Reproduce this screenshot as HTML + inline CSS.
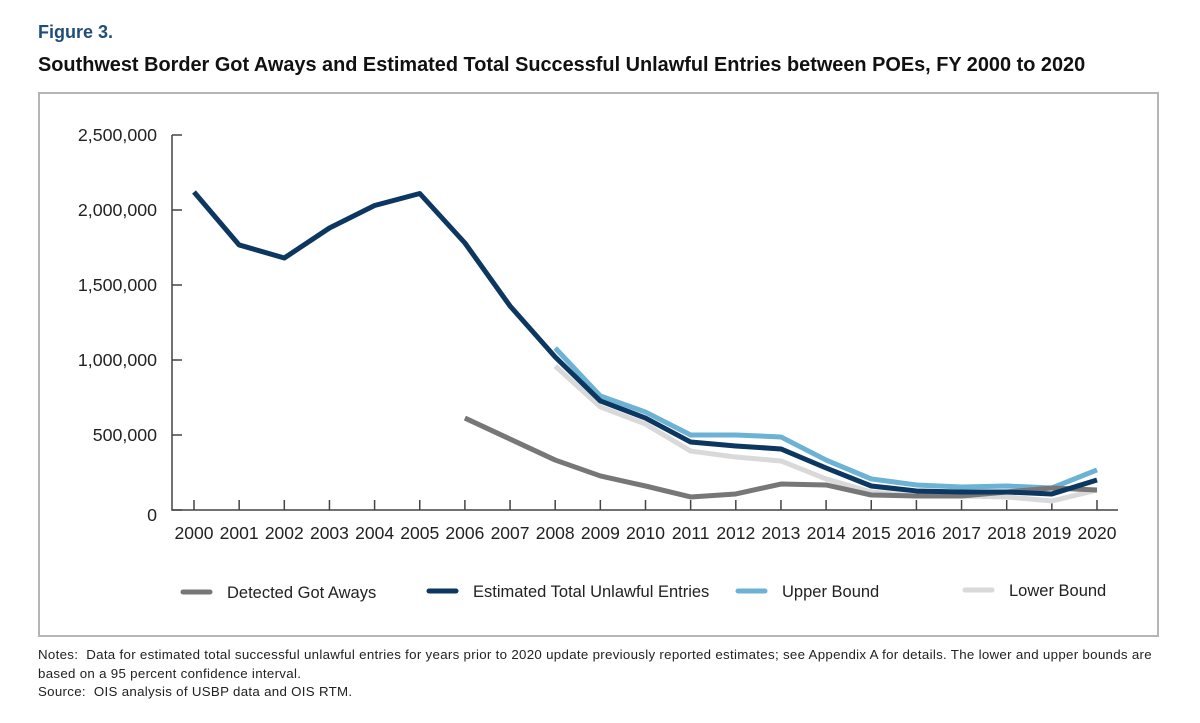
<!DOCTYPE html>
<html><head><meta charset="utf-8"><style>
body{margin:0;background:#fff;font-family:"Liberation Sans",sans-serif;}
.t1{position:absolute;left:38px;top:22px;font-size:18px;font-weight:bold;color:#1f4e79;}
.t2{position:absolute;left:38px;top:54px;font-size:19.9px;font-weight:bold;color:#111;white-space:nowrap;}
.box{position:absolute;left:38px;top:92px;width:1121px;height:545px;border:2px solid #b5b5b5;box-sizing:border-box;}
.notes{position:absolute;left:38px;top:646px;font-size:13.3px;letter-spacing:0.3px;color:#222;line-height:18.5px;width:1140px;white-space:nowrap;}
</style></head><body>
<div class="t1">Figure 3.</div>
<div class="t2">Southwest Border Got Aways and Estimated Total Successful Unlawful Entries between POEs, FY 2000 to 2020</div>
<div class="box"></div>
<svg id="c" width="1200" height="723" style="position:absolute;left:0;top:0"></svg>
<div class="notes">Notes:&nbsp; Data for estimated total successful unlawful entries for years prior to 2020 update previously reported estimates; see Appendix A for details. The lower and upper bounds are<br>based on a 95 percent confidence interval.<br>Source:&nbsp; OIS analysis of USBP data and OIS RTM.</div>
<script>
const years=[2000,2001,2002,2003,2004,2005,2006,2007,2008,2009,2010,2011,2012,2013,2014,2015,2016,2017,2018,2019,2020];
const yTicks=[0,500000,1000000,1500000,2000000,2500000];
const estimated=[2120000,1767000,1680000,1880000,2030000,2110000,1780000,1360000,1020000,727000,613000,453000,427000,407000,280000,160000,127000,120000,120000,107000,200000];
const upper=[null,null,null,null,null,null,null,null,1080000,760000,653000,500000,500000,487000,333000,207000,167000,153000,160000,147000,267000];
const lower=[null,null,null,null,null,null,null,null,960000,687000,573000,393000,353000,327000,207000,120000,93000,93000,87000,60000,133000];
const gotAways=[null,null,null,null,null,null,613000,473000,333000,227000,160000,87000,107000,173000,167000,100000,93000,93000,120000,147000,133000];
const NS="http://www.w3.org/2000/svg",svg=document.getElementById('c');
const x=i=>194+i*(1097-194)/20, y=v=>510-v/500000*75;
function mk(t,a,p){const e=document.createElementNS(NS,t);for(const k in a)e.setAttribute(k,a[k]);(p||svg).appendChild(e);return e;}
let ax=mk('path',{d:'M172,135V510H1118',stroke:'#444','stroke-width':1.5,fill:'none'});


yTicks.forEach(v=>{
 let tk=mk('line',{x1:172,x2:182,y1:y(v),y2:y(v),stroke:'#444','stroke-width':1.5});
 
 
 let t=mk('text',{x:157,y:y(v)+6+(v==0?5:0),'text-anchor':'end','font-size':17.8,fill:'#222'});
 t.textContent=v.toLocaleString('en-US');
 
 
});
years.forEach((yr,i)=>{
 let tk=mk('line',{x1:x(i),x2:x(i),y1:500,y2:510,stroke:'#444','stroke-width':1.5});
 
 
 let t=mk('text',{x:x(i),y:539,'text-anchor':'middle','font-size':17.5,fill:'#222'});
 t.textContent=yr;
 
 
});
function line(arr,col,name){
 let d='';arr.forEach((v,i)=>{if(v==null)return;d+=(d?'L':'M')+x(i)+','+y(v);});
 let p=mk('path',{d:d,stroke:col,'stroke-width':5,fill:'none','stroke-linejoin':'round'});
 
 
}
line(lower,'#d9d9d9','lower-bound-line');
line(upper,'#6cb2d4','upper-bound-line');
line(gotAways,'#777777','got-aways-line');
line(estimated,'#0b3760','estimated-total-line');
const leg=[['Detected Got Aways','#777777',183,592],['Estimated Total Unlawful Entries','#0b3760',429,591],['Upper Bound','#6cb2d4',738,591],['Lower Bound','#d9d9d9',965,590]];
leg.forEach(l=>{
 let g=mk('g',{});
 
 
 mk('line',{x1:l[2],x2:l[2]+27,y1:l[3],y2:l[3],stroke:l[1],'stroke-width':5,'stroke-linecap':'round'},g);
 let t=mk('text',{x:l[2]+44,y:l[3]+6,'font-size':16.5,fill:'#222'},g);t.textContent=l[0];
});
</script>
</body></html>
